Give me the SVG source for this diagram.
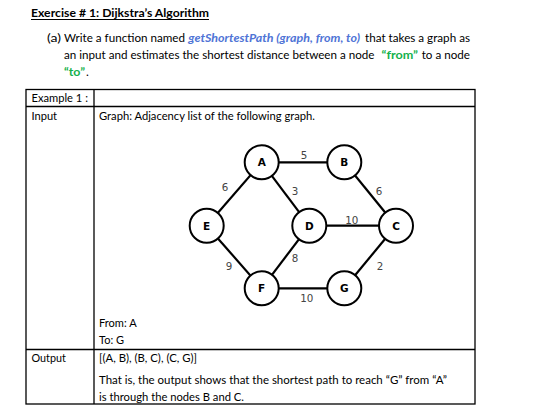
<svg xmlns="http://www.w3.org/2000/svg" width="555" height="414" viewBox="0 0 555 414">
<style>
.t{font-family:Lato,"Liberation Sans",sans-serif;font-size:12px;fill:#000}
.b{font-weight:bold}
.blue{fill:#4f74d6;font-style:italic;font-weight:bold}
.green{fill:#13b14c;font-weight:bold}
.tbl{fill:none;stroke:#000;stroke-width:1.3}
.node circle{fill:#fff;stroke:#000;stroke-width:2}
.node text{font-family:"DejaVu Sans",sans-serif;font-weight:bold;font-size:10.5px;text-anchor:middle;fill:#000}
.edge{stroke:#000;stroke-width:2.2}
.w{font-family:"DejaVu Sans",sans-serif;font-size:10.3px;fill:#444;text-anchor:middle}
</style>
<rect width="555" height="414" fill="#fff"/>
<text class="t b" x="31" y="17" font-size="13" textLength="178" lengthAdjust="spacingAndGlyphs">Exercise # 1: Dijkstra’s Algorithm</text>
<line x1="31" y1="19.5" x2="209" y2="19.5" stroke="#000" stroke-width="1"/>
<text class="t" x="47" y="41.5" textLength="14" lengthAdjust="spacingAndGlyphs">(a)</text>
<text class="t" x="64" y="41.5" textLength="121" lengthAdjust="spacingAndGlyphs">Write a function named</text>
<text class="t blue" x="188.3" y="41.5" textLength="171.7" lengthAdjust="spacingAndGlyphs">getShortestPath (graph, from, to)</text>
<text class="t" x="365" y="41.5" textLength="105" lengthAdjust="spacingAndGlyphs">that takes a graph as</text>
<text class="t" x="64" y="58.5" textLength="310.5" lengthAdjust="spacingAndGlyphs">an input and estimates the shortest distance between a node</text>
<text class="t green" x="381.5" y="58.5" textLength="36.5" lengthAdjust="spacingAndGlyphs">“from”</text>
<text class="t" x="421.7" y="58.5" textLength="48.3" lengthAdjust="spacingAndGlyphs">to a node</text>
<text class="t green" x="64" y="75.5" textLength="21" lengthAdjust="spacingAndGlyphs">“to”</text>
<text class="t" x="86" y="75.5">.</text>
<g id="table">
<rect class="tbl" x="26" y="89.5" width="449" height="314.5"/>
<line class="tbl" x1="94" y1="89.5" x2="94" y2="404"/>
<line class="tbl" x1="26" y1="106.5" x2="475" y2="106.5"/>
<line class="tbl" x1="26" y1="349.5" x2="475" y2="349.5"/>
</g>
<text class="t" x="31.5" y="102" textLength="56.5" lengthAdjust="spacingAndGlyphs">Example 1 :</text>
<text class="t" x="31.5" y="120" textLength="25.6" lengthAdjust="spacingAndGlyphs">Input</text>
<text class="t" x="99" y="120" textLength="216" lengthAdjust="spacingAndGlyphs">Graph: Adjacency list of the following graph.</text>
<text class="t" x="99" y="327" textLength="37.7" lengthAdjust="spacingAndGlyphs">From: A</text>
<text class="t" x="99" y="344" textLength="25" lengthAdjust="spacingAndGlyphs">To: G</text>
<text class="t" x="31.5" y="362" textLength="34.3" lengthAdjust="spacingAndGlyphs">Output</text>
<text class="t" x="99" y="362" textLength="98" lengthAdjust="spacingAndGlyphs">[(A, B), (B, C), (C, G)]</text>
<text class="t" x="99" y="384" textLength="348" lengthAdjust="spacingAndGlyphs">That is, the output shows that the shortest path to reach “G” from “A”</text>
<text class="t" x="99" y="400.5" textLength="145" lengthAdjust="spacingAndGlyphs">is through the nodes B and C.</text>
<g id="connectors">
<line class="edge" x1="261.7" y1="162.3" x2="344.3" y2="162.3"/>
<line class="edge" x1="261.7" y1="162.3" x2="206.7" y2="225.7"/>
<line class="edge" x1="261.7" y1="162.3" x2="309.3" y2="225.7"/>
<line class="edge" x1="344.3" y1="162.3" x2="396" y2="225.7"/>
<line class="edge" x1="309.3" y1="225.7" x2="396" y2="225.7"/>
<line class="edge" x1="206.7" y1="225.7" x2="261.7" y2="288.3"/>
<line class="edge" x1="309.3" y1="225.7" x2="261.7" y2="288.3"/>
<line class="edge" x1="396" y1="225.7" x2="344.3" y2="288.3"/>
<line class="edge" x1="261.7" y1="288.3" x2="344.3" y2="288.3"/>
<text class="w" x="304" y="159">5</text>
<text class="w" x="225" y="190.5">6</text>
<text class="w" x="295" y="195">3</text>
<text class="w" x="379" y="195">6</text>
<text class="w" x="351.7" y="223.5">10</text>
<text class="w" x="229" y="270">9</text>
<text class="w" x="295" y="261.5">8</text>
<text class="w" x="380" y="270">2</text>
<text class="w" x="306.7" y="301.5">10</text>
</g>
<g id="node-A" class="node"><circle cx="261.7" cy="162.3" r="17"/><text x="261.7" y="166.3">A</text></g>
<g id="node-B" class="node"><circle cx="344.3" cy="162.3" r="17"/><text x="344.3" y="166.3">B</text></g>
<g id="node-E" class="node"><circle cx="206.7" cy="225.7" r="17"/><text x="206.7" y="229.7">E</text></g>
<g id="node-D" class="node"><circle cx="309.3" cy="225.7" r="17"/><text x="309.3" y="229.7">D</text></g>
<g id="node-C" class="node"><circle cx="396" cy="225.7" r="17"/><text x="396" y="229.7">C</text></g>
<g id="node-F" class="node"><circle cx="261.7" cy="288.3" r="17"/><text x="261.7" y="292.3">F</text></g>
<g id="node-G" class="node"><circle cx="344.3" cy="288.3" r="17"/><text x="344.3" y="292.3">G</text></g>
</svg>
